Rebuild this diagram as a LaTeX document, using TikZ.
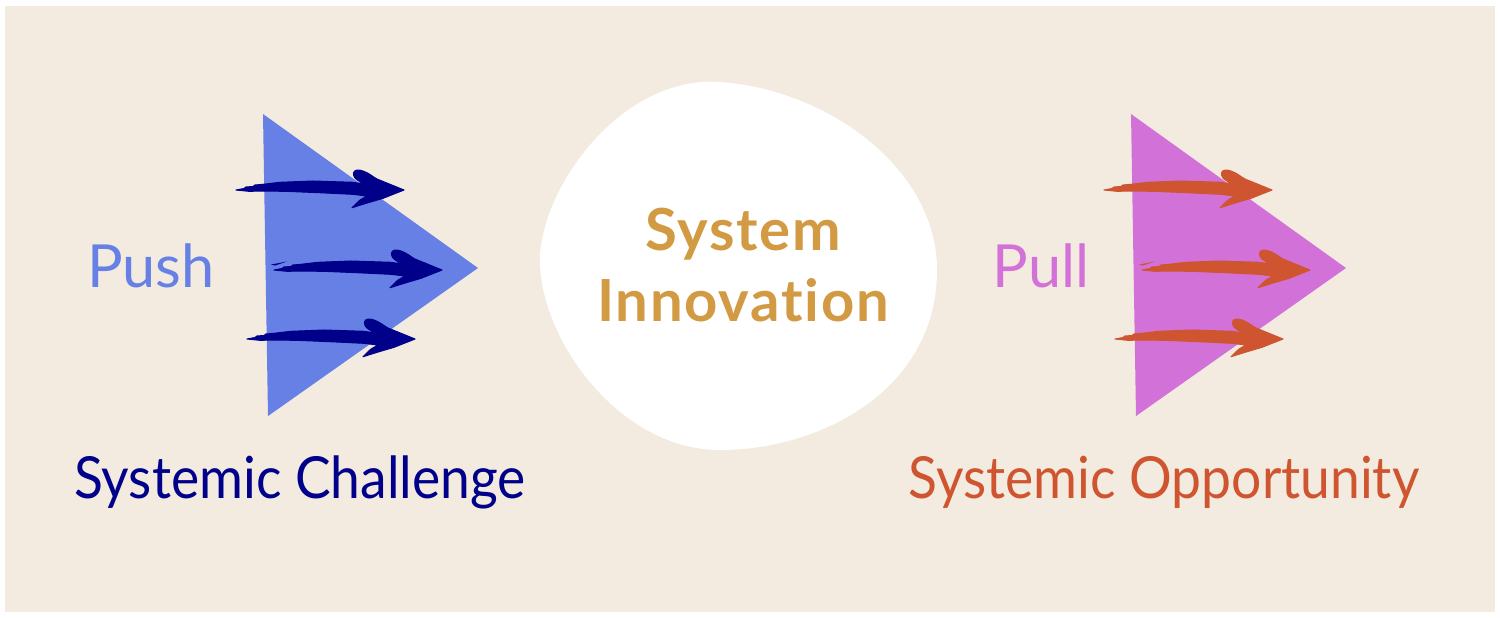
\documentclass[tikz,border=0pt]{standalone}
\usepackage{fontspec}
\setmainfont{Lato}
\newfontfamily\boldspaced[LetterSpace=3,Ligatures=NoCommon]{Lato Bold}
\definecolor{fondo}{HTML}{F3EBDF}
\definecolor{pushblue}{HTML}{6680E6}
\definecolor{pullpink}{HTML}{D272D8}
\definecolor{navy}{HTML}{00008B}
\definecolor{rust}{HTML}{CF5530}
\definecolor{gold}{HTML}{D29A42}
\tikzset{
    caption/.style={font=\fontsize{16.5}{20}\selectfont, xscale=0.92},
    force/.style={font=\fontsize{16.9}{18}\selectfont},
    centre/.style={font=\fontsize{16.5}{20.4}\boldspaced, text=gold, align=center},
    pics/brusharrow/.style={code={
        % tip of the stroke is the origin, units are pixels
        \filldraw[#1, line width=0.3pt, line join=round] (-168,0) -- (-160,-1.5) -- (-158,-3) -- (-151,-3.5) -- (-149,-5) -- (-141,-5.7)
            -- (-124,-7.7) -- (-91,-9) -- (-51,-7.7) -- (-38,-5.7) -- (-44,-8.3)
            .. controls (-49,-11) and (-51,-14) .. (-50.5,-17)
            .. controls (-50,-20.5) and (-45,-20.5) .. (-41,-19)
            .. controls (-35,-17) and (-31,-13) .. (-27,-11) -- (0,0) -- (-21,8.3) -- (-38,13.3)
            -- (-52,17.7) -- (-44,10) -- (-37,6) -- (-51,4.3) -- (-84,2.7) -- (-118,1.3) -- (-141,1)
            -- (-155,1.3) -- cycle;
    }}
}
\begin{document}
\begin{tikzpicture}[x=0.01cm,y=-0.01cm]
    \useasboundingbox (0,0) rectangle (1500,617);

    % fondo
    \fill[fondo] (5,6) rectangle (1495,612);

    % triangulos
    \fill[pushblue] (263,114) -- (478,268) -- (268,416) -- cycle;
    \fill[pullpink] (1131,114) -- (1346,268) -- (1136,416) -- cycle;

    % mancha central
    \fill[white] (720,82) .. controls (830,90) and (937,170) .. (937,270)
        .. controls (937,390) and (820,450) .. (720,450)
        .. controls (620,450) and (540,340) .. (540,260)
        .. controls (540,190) and (620,75) .. (720,82) -- cycle;

    % flechas
    \foreach \tipx/\tipy in {404/190, 442/270, 415/339} {
        \pic at (\tipx,\tipy) {brusharrow=navy};
    }
    \foreach \tipx/\tipy in {1272/190, 1310/270, 1283/339} {
        \pic at (\tipx,\tipy) {brusharrow=rust};
    }
    \fill[navy] (271,264.5) -- (287,261.5) -- (275,265.5) -- cycle;
    \fill[rust] (1139,264.5) -- (1155,261.5) -- (1143,265.5) -- cycle;

    % leyendas
    \node[force, text=pushblue] (push) at (151,266) {Push};
    \node[force, text=pullpink] (pull) at (1041,266) {Pull};
    \node[centre] (innovation) at (743,265) {System\\Innovation};
    \node[caption, text=navy] (challenge) at (300,482) {Systemic Challenge};
    \node[caption, text=rust] (opportunity) at (1164,482) {Systemic Opportunity};
\end{tikzpicture}
\end{document}
